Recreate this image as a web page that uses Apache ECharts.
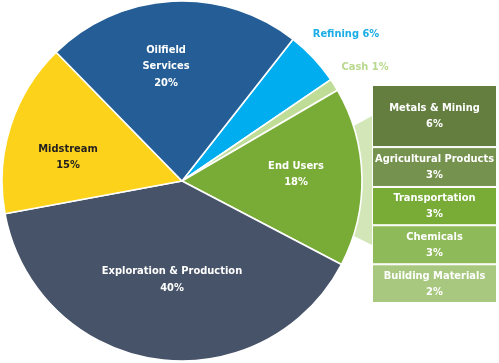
<!DOCTYPE html>
<html><head><meta charset="utf-8">
<script src="https://cdn.jsdelivr.net/npm/echarts@6/dist/echarts.min.js"></script>
<style>html,body{margin:0;padding:0;background:#fff}#c{width:499px;height:363px}</style>
</head><body><div id="c"></div>
<script>
// ---- data ----
const sliceNames = ['Refining', 'Cash', 'End Users', 'Exploration & Production', 'Midstream', 'Oilfield Services'];
const sliceLabelText = ['Refining', 'Cash', 'End Users', 'Exploration & Production', 'Midstream', 'Oilfield\nServices'];
const slicePct = [6, 1, 18, 40, 15, 20];
// arc shares as drawn in the picture (the drawing is not exactly proportional to the labels)
const sliceDrawn = [4.9, 1.1, 16.1, 39.4, 15.6, 22.9];
const breakdownNames = ['Metals & Mining', 'Agricultural Products', 'Transportation', 'Chemicals', 'Building Materials'];
const breakdownPct = [6, 3, 3, 3, 2];
// row spans as drawn in the picture
const breakdownDrawn = [6, 3.85, 3.7, 3.77, 3.74];

// ---- styles / layout ----
const FONT = "'Liberation Sans Narrow', 'DejaVu Sans Condensed', sans-serif";
const FS = 11;
const sliceColors = ['#00ADEE', '#C0DD98', '#79AC37', '#475368', '#FCD31A', '#255E96'];
const sliceTextColors = ['#1AADE6', '#B9D98F', '#FFFFFF', '#FFFFFF', '#231F20', '#FFFFFF'];
const sliceInside = [false, false, true, true, true, true];
const sliceLabelAt = [[346, 34], [365, 67], [296, 174], [172, 279.5], [68, 157], [166, 66.5]];
const breakdownColors = ['#637E3F', '#76924F', '#79AC37', '#8FBA59', '#A8C880'];

const chart = echarts.init(document.getElementById('c'), null, {renderer: 'canvas'});

const pieData = sliceNames.map((n, i) => ({
  name: n,
  value: sliceDrawn[i],
  itemStyle: {color: sliceColors[i]},
  label: {
    color: sliceTextColors[i],
    formatter: sliceInside[i] ? (sliceLabelText[i] + '\n' + slicePct[i] + '%') : (sliceLabelText[i] + ' ' + slicePct[i] + '%')
  }
}));

const breakdownTotal = breakdownDrawn.reduce((a, b) => a + b, 0);

const barSeries = breakdownNames.map((n, i) => ({
  type: 'bar',
  name: n,
  stack: 'eu',
  barWidth: '100%',
  barCategoryGap: 0,
  data: [breakdownDrawn[i]],
  itemStyle: {color: breakdownColors[i], borderColor: '#FFFFFF', borderWidth: 1},
  label: {
    show: true,
    position: 'inside',
    formatter: n + '\n' + breakdownPct[i] + '%',
    color: '#FFFFFF',
    fontFamily: FONT,
    fontWeight: 'bold',
    fontSize: FS,
    lineHeight: 16
  },
  emphasis: {disabled: true},
  silent: true,
  z: 3
}));

chart.setOption({
  animation: false,
  graphic: [{
    type: 'polygon',
    z: 0,
    shape: {points: [[330, 139], [372, 116], [372, 245], [330, 224]]},
    style: {fill: '#D2E6B8'}
  }],
  grid: {left: 372, top: 85, width: 125, height: 218},
  xAxis: {type: 'category', data: ['End Users'], show: false},
  yAxis: {type: 'value', inverse: true, min: 0, max: breakdownTotal, show: false},
  series: [{
    type: 'pie',
    center: [182, 181],
    radius: [0, 180],
    startAngle: 51.9,
    clockwise: true,
    avoidLabelOverlap: false,
    silent: true,
    z: 2,
    itemStyle: {borderColor: '#FFFFFF', borderWidth: 1.6},
    label: {
      show: true,
      position: 'inside',
      fontFamily: FONT,
      fontWeight: 'bold',
      fontSize: FS,
      lineHeight: 16.5,
      align: 'center'
    },
    labelLine: {show: false},
    labelLayout: function (p) {
      const a = sliceLabelAt[p.dataIndex];
      return {x: a[0], y: a[1], align: 'center', verticalAlign: 'middle'};
    },
    data: pieData
  }].concat(barSeries)
});
</script></body></html>
